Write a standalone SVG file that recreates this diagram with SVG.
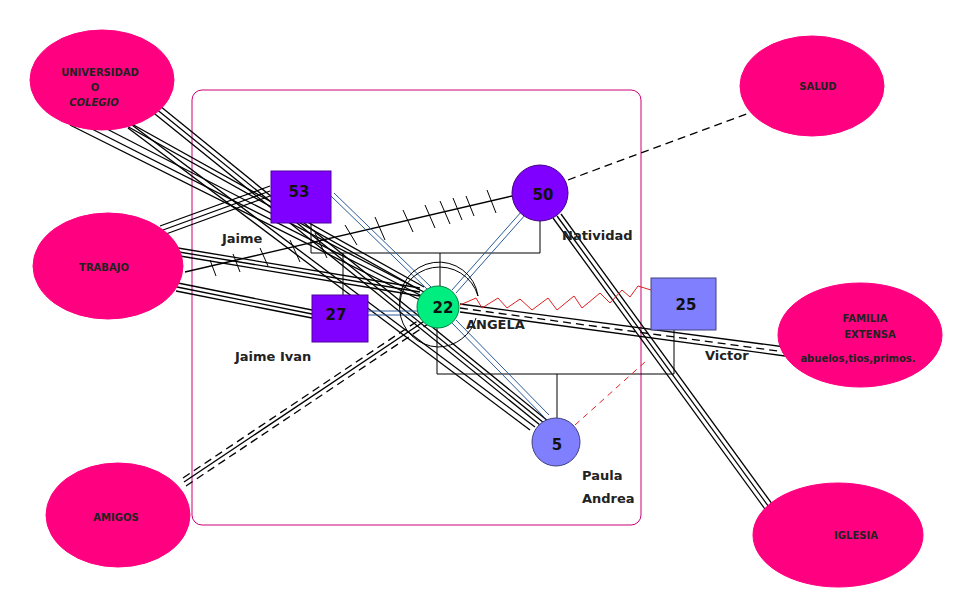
<svg xmlns="http://www.w3.org/2000/svg" width="953" height="604" viewBox="0 0 953 604">
<style>
.sys{fill:#ff0080;stroke:#ff0080}
.st{font-family:"DejaVu Sans",sans-serif;font-size:10px;font-weight:bold;fill:#222;text-anchor:middle}
.num{font-family:"DejaVu Sans",sans-serif;font-size:15px;font-weight:bold;fill:#111;text-anchor:middle}
.lbl{font-family:"DejaVu Sans",sans-serif;font-size:13px;font-weight:bold;fill:#222}
.k{stroke:#000;stroke-width:1.3;fill:none}
.t{stroke:#000;stroke-width:1;fill:none}
.b{stroke:#2a5a9a;stroke-width:1;fill:none}
.d{stroke:#000;stroke-width:1.3;fill:none;stroke-dasharray:8 5}
</style>
<rect width="953" height="604" fill="#fff"/>
<rect x="192" y="90" width="449" height="435" rx="10" fill="none" stroke="#cc0077" stroke-width="1"/>
<g id="connectors">
<!-- family tree lines -->
<path class="t" d="M311 223V253H540V221M343 253V295M440 253V286M437 328V374H674V330M557 374V418"/>
<!-- universidad bundles -->
<g class="k">
<line x1="70" y1="125" x2="420" y2="300"/><line x1="90" y1="128" x2="422" y2="296"/><line x1="105" y1="128" x2="424" y2="292"/>
<line x1="125" y1="125" x2="420" y2="290"/><line x1="130" y1="123" x2="424" y2="287"/>
<line x1="150" y1="110" x2="540" y2="425"/><line x1="155" y1="108" x2="544" y2="423"/><line x1="160" y1="106" x2="548" y2="421"/>
<line x1="128" y1="128" x2="530" y2="430"/><line x1="132" y1="125" x2="535" y2="427"/>
<!-- trabajo -->
<line x1="160" y1="226" x2="270" y2="186"/><line x1="163" y1="230" x2="270" y2="191"/><line x1="166" y1="234" x2="270" y2="196"/>
<line x1="178" y1="248" x2="420" y2="288"/><line x1="179" y1="252" x2="420" y2="292"/><line x1="180" y1="256" x2="420" y2="296"/>
<line x1="178" y1="283" x2="312" y2="310"/><line x1="177" y1="287" x2="312" y2="314"/><line x1="176" y1="291" x2="312" y2="318"/>
<!-- 50 to iglesia -->
<line x1="553" y1="218" x2="770" y2="516"/><line x1="557" y1="216" x2="774" y2="514"/><line x1="561" y1="214" x2="778" y2="512"/>
<!-- 22 to familia -->
<line x1="460" y1="304" x2="785" y2="347"/>
<line x1="460" y1="308" x2="785" y2="352" stroke-dasharray="8 5"/>
<line x1="460" y1="312" x2="785" y2="356"/>
</g>
<!-- trabajo to 50 hatched -->
<line class="k" x1="185" y1="272" x2="512" y2="196"/>
<g class="t">
<line x1="210" y1="260" x2="216" y2="276"/><line x1="233" y1="254" x2="240" y2="272"/><line x1="260" y1="248" x2="268" y2="266"/>
<line x1="290" y1="240" x2="300" y2="262"/><line x1="315" y1="233" x2="327" y2="258"/><line x1="345" y1="225" x2="357" y2="245"/>
<line x1="375" y1="217" x2="385" y2="240"/><line x1="403" y1="210" x2="413" y2="232"/><line x1="425" y1="205" x2="435" y2="228"/>
<line x1="440" y1="201" x2="450" y2="224"/><line x1="453" y1="198" x2="462" y2="220"/><line x1="466" y1="196" x2="474" y2="216"/>
<line x1="487" y1="190" x2="496" y2="213"/>
</g>
<!-- dashed -->
<line class="d" x1="568" y1="180" x2="752" y2="112"/>
<line class="d" x1="183" y1="478" x2="425" y2="316"/>
<line class="d" x1="186" y1="486" x2="428" y2="324"/>
<line class="k" x1="184" y1="482" x2="426" y2="320"/>
<!-- blue ties -->
<g class="b">
<line x1="331" y1="196" x2="428" y2="290"/><line x1="334" y1="193" x2="431" y2="287"/>
<line x1="452" y1="290" x2="522" y2="211"/><line x1="456" y1="293" x2="526" y2="214"/>
<line x1="452" y1="323" x2="545" y2="418"/><line x1="456" y1="320" x2="549" y2="415"/>
<line x1="368" y1="311" x2="418" y2="311"/><line x1="368" y1="315" x2="418" y2="315"/>
</g>
<!-- red -->
<polyline fill="none" stroke="#e02020" stroke-width="1" points="460,305 476,298 482,308 498,298 507,308 520,299 532,310 548,298 557,310 574,296 582,308 600,293 610,303 622,290 630,297 638,286 651,290"/>
<line x1="575" y1="425" x2="645" y2="362" stroke="#e02020" stroke-width="1" stroke-dasharray="6 5"/>
<!-- arcs around 22 -->
<path class="t" d="M478 296A40 40 0 1 0 438 347M400 307A38 38 0 0 1 478 296M438 347A40 40 0 0 0 476 318"/>
</g>
<g id="universidad"><ellipse class="sys" cx="102" cy="80" rx="72" ry="50"/><text class="st" x="100" y="76">UNIVERSIDAD</text><text class="st" x="95" y="91">O</text><text class="st" x="94" y="106" font-style="italic">COLEGIO</text></g>
<g id="trabajo"><ellipse class="sys" cx="108" cy="266" rx="75" ry="53"/><text class="st" x="104" y="271">TRABAJO</text></g>
<g id="amigos"><ellipse class="sys" cx="118" cy="515" rx="72" ry="52"/><text class="st" x="116" y="521">AMIGOS</text></g>
<g id="salud"><ellipse class="sys" cx="812" cy="86" rx="72" ry="50"/><text class="st" x="818" y="90">SALUD</text></g>
<g id="familia"><ellipse class="sys" cx="860" cy="335" rx="82" ry="52"/><text class="st" x="865" y="322">FAMILIA</text><text class="st" x="870" y="338">EXTENSA</text><text class="st" x="858" y="362" font-size="9">abuelos,tios,primos.</text></g>
<g id="iglesia"><ellipse class="sys" cx="838" cy="535" rx="85" ry="52"/><text class="st" x="856" y="539">IGLESIA</text></g>
<g id="n53"><rect x="271" y="171" width="60" height="52" fill="#7f00ff" stroke="#5000a0"/><text class="num" x="299" y="197">53</text><text class="lbl" x="222" y="243">Jaime</text></g>
<g id="n27"><rect x="312" y="295" width="56" height="47" fill="#7f00ff" stroke="#5000a0"/><text class="num" x="336" y="320">27</text><text class="lbl" x="235" y="361">Jaime Ivan</text></g>
<g id="n50"><circle cx="540" cy="193" r="28" fill="#7f00ff" stroke="#400080"/><text class="num" x="543" y="200">50</text><text class="lbl" x="562" y="240">Natividad</text></g>
<g id="n22"><circle cx="438" cy="307" r="21" fill="#00ee80" stroke="#008040"/><text class="num" x="443" y="313">22</text><text class="lbl" x="466" y="329">ANGELA</text></g>
<g id="n25"><rect x="651" y="278" width="65" height="52" fill="#8080ff" stroke="#404080"/><text class="num" x="686" y="310">25</text><text class="lbl" x="705" y="360">Victor</text></g>
<g id="n5"><circle cx="556" cy="442" r="24" fill="#8080ff" stroke="#404080"/><text class="num" x="557" y="450">5</text><text class="lbl" x="582" y="480">Paula</text><text class="lbl" x="582" y="503">Andrea</text></g>
</svg>
